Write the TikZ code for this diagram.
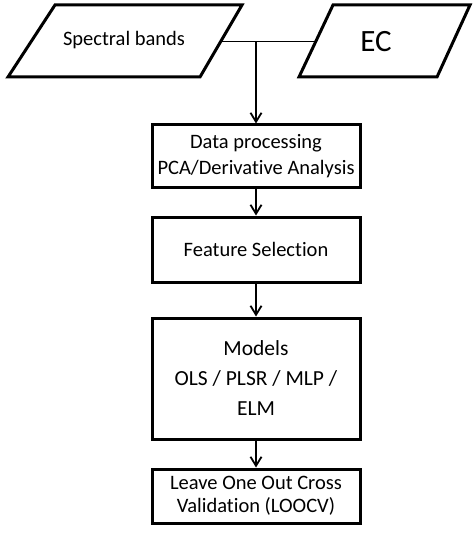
\documentclass[tikz,border=0pt]{standalone}
\usepackage{fontspec}
\setmainfont[Ligatures=NoCommon]{Carlito}
\usetikzlibrary{arrows.meta}
\begin{document}
\begin{tikzpicture}[x=1pt,y=-1pt,
  box/.style={draw=black,line width=3pt,minimum width=208pt,align=center,inner sep=0pt,font=\fontsize{20.5}{26}\selectfont},
  para/.style={draw=black,line width=3pt,line join=miter},
  conn/.style={line width=1.8pt},
  arr/.style={conn,-{Straight Barb[length=9pt,width=11pt,line width=1.8pt]}}]
\useasboundingbox (0,0) rectangle (474,540);
% parallelograms
\draw[para] (55,5) -- (242,5) -- (200,77) -- (8,77) -- cycle;
\draw[para] (333,5) -- (470,5) -- (437,77) -- (299,77) -- cycle;
\node[font=\fontsize{20.5}{22}\selectfont] (sb) at (124,40) {Spectral bands};
\node[font=\fontsize{31}{32}\selectfont] (ec) at (376,42) {EC};
\coordinate (sbR) at (221,41.5);
\coordinate (ecL) at (316,41.5);
\coordinate (j) at (256,41.5);
% boxes
\node[box,minimum height=62pt] (b1) at (256,156) {Data processing\\PCA/Derivative Analysis};
\node[box,minimum height=65pt] (b2) at (256,249.5) {Feature Selection};
\node[box,minimum height=121pt,font=\fontsize{21.5}{30}\selectfont] (b3) at (256,378.5) {\rule{0pt}{10pt}Models\\OLS / PLSR / MLP /\\ELM};
\node[box,minimum height=54pt,font=\fontsize{20.5}{23}\selectfont] (b4) at (256,496) {Leave One Out Cross\\Validation (LOOCV)};
% connectors
\draw[conn] (sbR) -- (ecL);
\draw[arr] (j) -- (b1.north);
\draw[arr] (b1.south) -- (b2.north);
\draw[arr] (b2.south) -- (b3.north);
\draw[arr] (b3.south) -- (b4.north);
\end{tikzpicture}
\end{document}
